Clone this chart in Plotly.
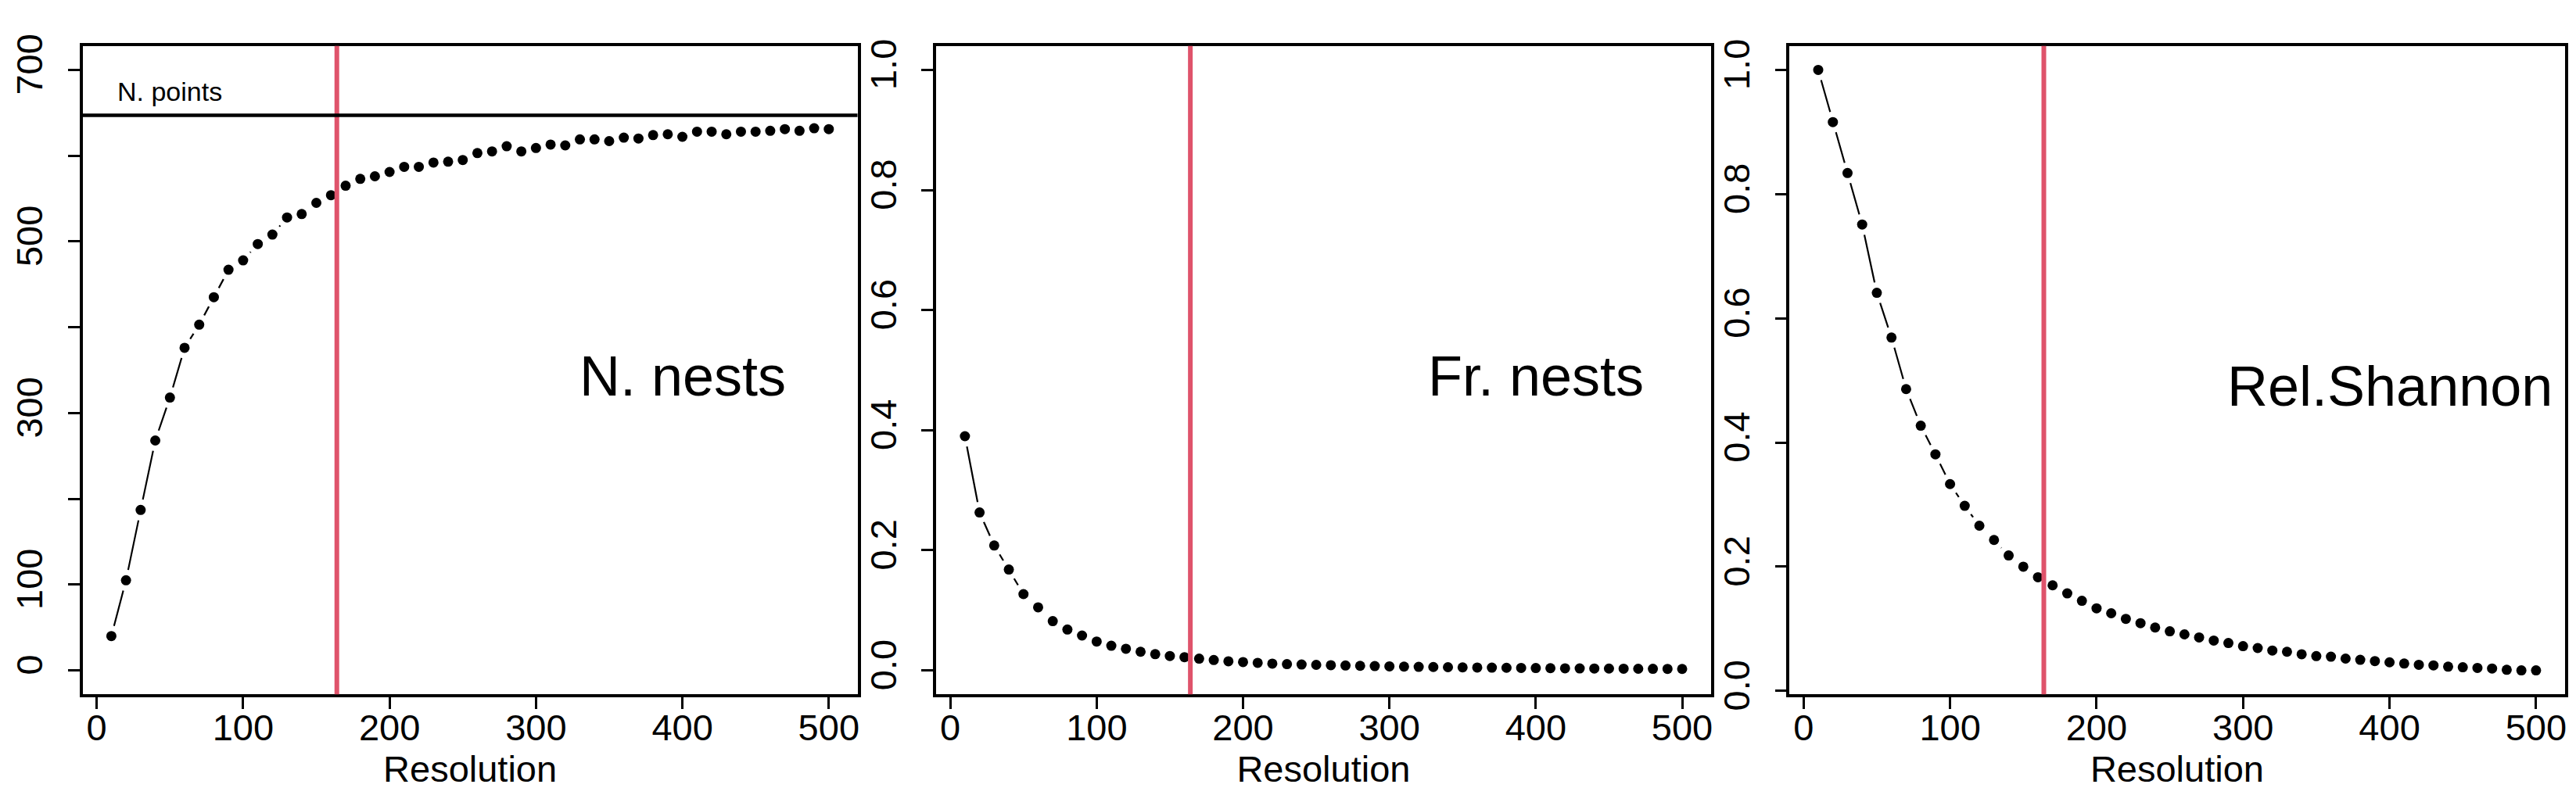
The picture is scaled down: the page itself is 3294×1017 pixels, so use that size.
import plotly.graph_objects as go

resolution = [10, 20, 30, 40, 50, 60, 70, 80, 90, 100,
              110, 120, 130, 140, 150, 160, 170, 180, 190, 200,
              210, 220, 230, 240, 250, 260, 270, 280, 290, 300,
              310, 320, 330, 340, 350, 360, 370, 380, 390, 400,
              410, 420, 430, 440, 450, 460, 470, 480, 490, 500]

n_nests = [40, 105, 187, 268, 318, 376, 403, 435, 467, 478,
           497, 508, 528, 532, 545, 554, 565, 573, 576, 581,
           587, 587, 592, 593, 595, 603, 605, 611, 605, 609,
           613, 612, 619, 619, 617, 621, 620, 624, 625, 622,
           628, 628, 625, 628, 628, 629, 631, 629, 632, 631]

fr_nests = [0.390, 0.263, 0.208, 0.168, 0.127, 0.105, 0.082, 0.068, 0.058, 0.048,
            0.041, 0.036, 0.031, 0.027, 0.024, 0.022, 0.0195, 0.0173, 0.0152, 0.0139,
            0.0126, 0.0113, 0.0104, 0.0098, 0.0092, 0.0086, 0.0081, 0.0076, 0.0071, 0.0067,
            0.0063, 0.0059, 0.0056, 0.0053, 0.0050, 0.0047, 0.0045, 0.0043, 0.0041, 0.0039,
            0.0037, 0.0035, 0.0033, 0.0031, 0.0030, 0.0028, 0.0027, 0.0026, 0.0025, 0.0024]

rel_shannon = [1.000, 0.916, 0.834, 0.751, 0.641, 0.569, 0.486, 0.427, 0.381, 0.333,
               0.298, 0.266, 0.243, 0.218, 0.200, 0.183, 0.170, 0.157, 0.145, 0.133,
               0.125, 0.116, 0.109, 0.102, 0.096, 0.091, 0.086, 0.081, 0.077, 0.072,
               0.069, 0.065, 0.063, 0.059, 0.056, 0.055, 0.052, 0.050, 0.048, 0.046,
               0.044, 0.042, 0.041, 0.039, 0.038, 0.037, 0.036, 0.034, 0.033, 0.033]

n_points = 647
chosen_res = 164

panel_labels = ["N. nests", "Fr. nests", "Rel.Shannon"]
label_y = [350, 0.5, 0.5]

y1_ticks = [0, 100, 200, 300, 400, 500, 600, 700]
y1_text = ["0", "100", "", "300", "", "500", "", "700"]
y23_ticks = [0, 0.2, 0.4, 0.6, 0.8, 1.0]
y23_text = ["0.0", "0.2", "0.4", "0.6", "0.8", "1.0"]
x_ticks = [0, 100, 200, 300, 400, 500]

FONT = "Liberation Sans, Arial, sans-serif"
RED = "#DF536B"


def pad_range(lo, hi):
    # R's default 4% expansion
    d = (hi - lo) * 0.04
    return [lo - d, hi + d]


fig = go.Figure()

series = [n_nests, fr_nests, rel_shannon]
for i, ys in enumerate(series):
    xa = "x" if i == 0 else "x%d" % (i + 1)
    ya = "y" if i == 0 else "y%d" % (i + 1)
    # type = "b": line broken around each point (white discs hide the line near the dots)
    fig.add_trace(go.Scatter(x=resolution, y=ys, mode="lines", xaxis=xa, yaxis=ya,
                             line=dict(color="black", width=2.2), hoverinfo="skip"))
    fig.add_trace(go.Scatter(x=resolution, y=ys, mode="markers", xaxis=xa, yaxis=ya,
                             marker=dict(color="white", size=27), hoverinfo="skip"))
    fig.add_trace(go.Scatter(x=resolution, y=ys, mode="markers", xaxis=xa, yaxis=ya,
                             marker=dict(color="black", size=13), hoverinfo="skip"))

axis_common = dict(showline=True, linecolor="black", linewidth=3.5, mirror=True,
                   ticks="outside", ticklen=15, tickwidth=3, tickcolor="black",
                   showgrid=False, zeroline=False, automargin=False,
                   tickfont=dict(family=FONT, size=47, color="black"))

x_doms = [[97.7 / 3294, 1088.5 / 3294],
          [1189.2 / 3294, 2179.7 / 3294],
          [2280.3 / 3294, 3271.6 / 3294]]
y_dom = [1 - 880.3 / 1017, 1 - 50.7 / 1017]

xr = pad_range(min(resolution), max(resolution))
y_ranges = [pad_range(0, 700), pad_range(0, 1), pad_range(min(rel_shannon), max(rel_shannon))]

layout = dict(width=3294, height=1017, margin=dict(l=0, r=0, t=0, b=0),
              paper_bgcolor="white", plot_bgcolor="white", showlegend=False,
              font=dict(family=FONT, color="black"))

for i in range(3):
    sx = "xaxis" if i == 0 else "xaxis%d" % (i + 1)
    sy = "yaxis" if i == 0 else "yaxis%d" % (i + 1)
    ya = "y" if i == 0 else "y%d" % (i + 1)
    xa = "x" if i == 0 else "x%d" % (i + 1)
    layout[sx] = dict(axis_common, domain=x_doms[i], range=xr, anchor=ya,
                      tickvals=x_ticks, ticklabelstandoff=-16,
                      title=dict(text="Resolution", standoff=4,
                                 font=dict(family=FONT, size=47, color="black")))
    layout[sy] = dict(axis_common, domain=y_dom, range=y_ranges[i], anchor=xa,
                      tickangle=-90, ticklabelstandoff=14,
                      tickvals=y1_ticks if i == 0 else y23_ticks,
                      ticktext=y1_text if i == 0 else y23_text)

fig.update_layout(**layout)

shapes = []
annotations = []
for i in range(3):
    xa = "x" if i == 0 else "x%d" % (i + 1)
    ya = "y" if i == 0 else "y%d" % (i + 1)
    shapes.append(dict(type="line", xref=xa, yref=ya + " domain", x0=chosen_res, x1=chosen_res,
                       y0=0, y1=1, line=dict(color=RED, width=6), layer="above"))
    annotations.append(dict(xref=xa, yref=ya, x=400, y=label_y[i], text=panel_labels[i],
                            showarrow=False, xanchor="center", yanchor="middle", yshift=-7,
                            font=dict(family=FONT, size=72, color="black")))

shapes.append(dict(type="line", xref="x domain", yref="y", x0=0, x1=1, y0=n_points, y1=n_points,
                   line=dict(color="black", width=4.5), layer="above"))
annotations.append(dict(xref="x", yref="y", x=50, y=n_points + 26, text="N. points",
                        showarrow=False, xanchor="center", yanchor="middle", yshift=2,
                        font=dict(family=FONT, size=34, color="black")))

fig.update_layout(shapes=shapes, annotations=annotations)

fig.write_html("out.html")
